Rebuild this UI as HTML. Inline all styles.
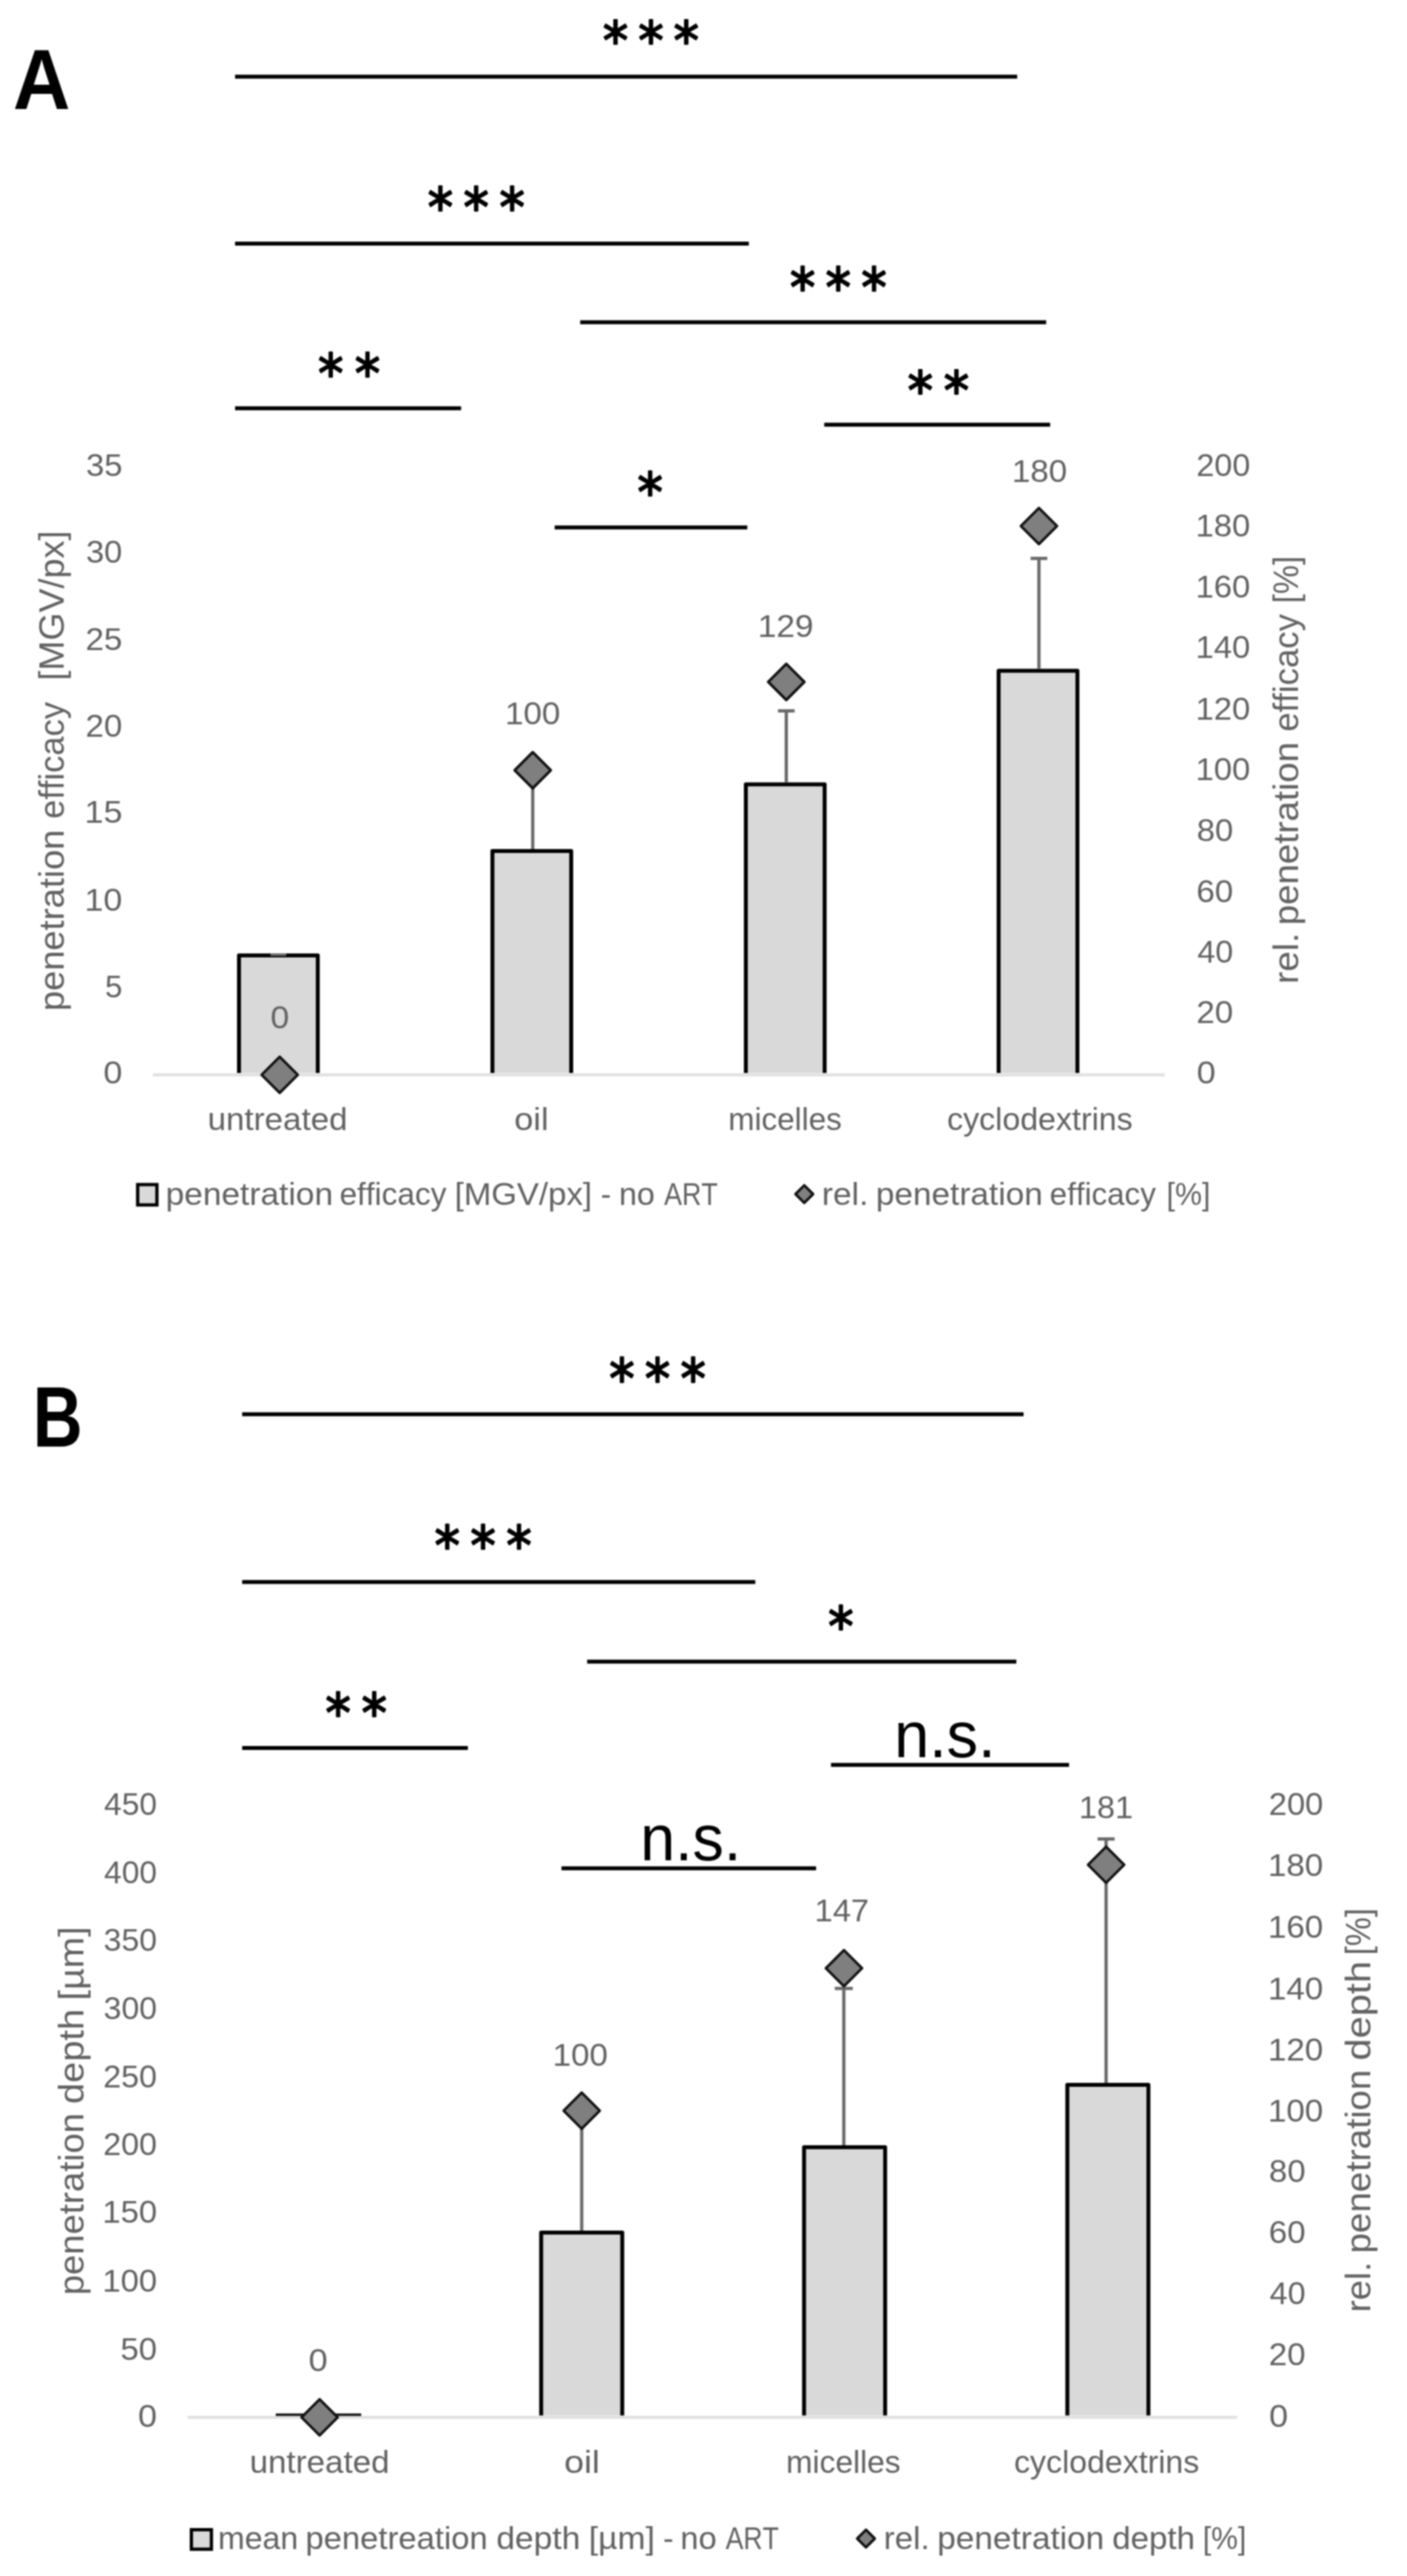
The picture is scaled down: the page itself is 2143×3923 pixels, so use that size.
<!DOCTYPE html>
<html lang="en"><head><meta charset="utf-8"><title>Figure: penetration efficacy and penetration depth</title>
<style>
html,body{margin:0;padding:0;background:#fff}
svg{display:block;filter:blur(1px)}
text{font-kerning:none;font-variant-ligatures:none;white-space:pre}
.lib{font-family:"Liberation Sans",sans-serif}
.b{font-weight:bold}
.dv{font-family:"DejaVu Sans","Liberation Sans",sans-serif}
</style></head><body>
<svg width="2143" height="3923" viewBox="0 0 2143 3923">
<rect width="2143" height="3923" fill="#fff"/>
<text class="lib b" transform="translate(19.79 165.70) scale(0.9346 1.0000)" font-size="129.5" fill="#000">A</text>
<line x1="358.00" y1="116.70" x2="1549.30" y2="116.70" stroke="#000" stroke-width="6" stroke-linecap="butt"/>
<line x1="358.00" y1="371.10" x2="1140.50" y2="371.10" stroke="#000" stroke-width="6" stroke-linecap="butt"/>
<line x1="883.70" y1="490.80" x2="1593.40" y2="490.80" stroke="#000" stroke-width="6" stroke-linecap="butt"/>
<line x1="358.00" y1="621.70" x2="702.30" y2="621.70" stroke="#000" stroke-width="6" stroke-linecap="butt"/>
<line x1="1255.40" y1="646.80" x2="1599.50" y2="646.80" stroke="#000" stroke-width="6" stroke-linecap="butt"/>
<line x1="844.80" y1="803.20" x2="1138.20" y2="803.20" stroke="#000" stroke-width="6" stroke-linecap="butt"/>
<text class="dv" transform="translate(918.31 89.94) scale(0.9644 1)" font-size="79.81" fill="#000" stroke="#000" stroke-width="2.6" stroke-linejoin="round" letter-spacing="15.98">***</text>
<text class="dv" transform="translate(651.51 345.03) scale(0.9361 1)" font-size="82.23" fill="#000" stroke="#000" stroke-width="2.6" stroke-linejoin="round" letter-spacing="17.22">***</text>
<text class="dv" transform="translate(1203.21 467.17) scale(0.9386 1)" font-size="82.01" fill="#000" stroke="#000" stroke-width="2.6" stroke-linejoin="round" letter-spacing="16.96">***</text>
<text class="dv" transform="translate(484.51 598.49) scale(0.9336 1)" font-size="82.45" fill="#000" stroke="#000" stroke-width="2.6" stroke-linejoin="round" letter-spacing="18.65">**</text>
<text class="dv" transform="translate(1382.61 622.54) scale(0.9644 1)" font-size="79.81" fill="#000" stroke="#000" stroke-width="2.6" stroke-linejoin="round" letter-spacing="17.02">**</text>
<text class="dv" transform="translate(971.01 778.68) scale(0.9462 1)" font-size="81.35" fill="#000" stroke="#000" stroke-width="2.6" stroke-linejoin="round">*</text>
<line x1="232.90" y1="1636.80" x2="1774.00" y2="1636.80" stroke="#e1e1e1" stroke-width="4.8" stroke-linecap="butt"/>
<text class="lib" transform="translate(157.47 1649.62) scale(1.0922 1.0000)" font-size="47.5" fill="#626262">0</text>
<text class="lib" transform="translate(159.90 1518.82) scale(0.9991 1.0000)" font-size="47.5" fill="#626262">5</text>
<text class="lib" transform="translate(128.87 1387.32) scale(1.0874 1.0000)" font-size="47.5" fill="#626262">10</text>
<text class="lib" transform="translate(128.85 1252.92) scale(1.0906 1.0000)" font-size="47.5" fill="#626262">15</text>
<text class="lib" transform="translate(130.27 1121.72) scale(1.0599 1.0000)" font-size="47.5" fill="#626262">20</text>
<text class="lib" transform="translate(130.26 990.31) scale(1.0629 1.0000)" font-size="47.5" fill="#626262">25</text>
<text class="lib" transform="translate(130.91 856.62) scale(1.0474 1.0000)" font-size="47.5" fill="#626262">30</text>
<text class="lib" transform="translate(130.90 725.12) scale(1.0504 1.0000)" font-size="47.5" fill="#626262">35</text>
<text class="lib" transform="translate(1822.77 1649.62) scale(1.0922 1.0000)" font-size="47.5" fill="#626262">0</text>
<text class="lib" transform="translate(1822.27 1557.92) scale(1.0599 1.0000)" font-size="47.5" fill="#626262">20</text>
<text class="lib" transform="translate(1823.67 1465.92) scale(1.0323 1.0000)" font-size="47.5" fill="#626262">40</text>
<text class="lib" transform="translate(1822.24 1373.52) scale(1.0604 1.0000)" font-size="47.5" fill="#626262">60</text>
<text class="lib" transform="translate(1822.63 1280.52) scale(1.0529 1.0000)" font-size="47.5" fill="#626262">80</text>
<text class="lib" transform="translate(1821.00 1188.02) scale(1.0504 1.0000)" font-size="47.5" fill="#626262">100</text>
<text class="lib" transform="translate(1821.00 1096.02) scale(1.0504 1.0000)" font-size="47.5" fill="#626262">120</text>
<text class="lib" transform="translate(1821.00 1001.91) scale(1.0504 1.0000)" font-size="47.5" fill="#626262">140</text>
<text class="lib" transform="translate(1821.00 909.81) scale(1.0504 1.0000)" font-size="47.5" fill="#626262">160</text>
<text class="lib" transform="translate(1821.00 817.31) scale(1.0504 1.0000)" font-size="47.5" fill="#626262">180</text>
<text class="lib" transform="translate(1822.33 724.91) scale(1.0332 1.0000)" font-size="47.5" fill="#626262">200</text>
<path d="M364.00 1634.00V1455.00H484.00V1634.00" fill="#d9d9d9" stroke="#000" stroke-width="6" stroke-linejoin="round"/>
<path d="M750.00 1634.00V1296.00H870.00V1634.00" fill="#d9d9d9" stroke="#000" stroke-width="6" stroke-linejoin="round"/>
<path d="M1136.00 1634.00V1194.50H1256.00V1634.00" fill="#d9d9d9" stroke="#000" stroke-width="6" stroke-linejoin="round"/>
<path d="M1521.00 1634.00V1021.50H1641.00V1634.00" fill="#d9d9d9" stroke="#000" stroke-width="6" stroke-linejoin="round"/>
<line x1="412.00" y1="1454.00" x2="436.00" y2="1454.00" stroke="#7f7f7f" stroke-width="3" stroke-linecap="butt"/>
<line x1="811.40" y1="1293.00" x2="811.40" y2="1180.00" stroke="#6a6a6a" stroke-width="5" stroke-linecap="butt"/>
<line x1="1197.60" y1="1191.50" x2="1197.60" y2="1082.60" stroke="#6a6a6a" stroke-width="5" stroke-linecap="butt"/>
<line x1="1184.85" y1="1082.60" x2="1210.35" y2="1082.60" stroke="#6a6a6a" stroke-width="5" stroke-linecap="butt"/>
<line x1="1582.40" y1="1018.50" x2="1582.40" y2="850.40" stroke="#6a6a6a" stroke-width="5" stroke-linecap="butt"/>
<line x1="1569.65" y1="850.40" x2="1595.15" y2="850.40" stroke="#6a6a6a" stroke-width="5" stroke-linecap="butt"/>
<path d="M426.00 1609.30L453.50 1636.80L426.00 1664.30L398.50 1636.80Z" fill="#7f7f7f" stroke="#111" stroke-width="4" stroke-linejoin="round"/>
<path d="M811.40 1145.50L838.90 1173.00L811.40 1200.50L783.90 1173.00Z" fill="#7f7f7f" stroke="#111" stroke-width="4" stroke-linejoin="round"/>
<path d="M1197.60 1011.00L1225.10 1038.50L1197.60 1066.00L1170.10 1038.50Z" fill="#7f7f7f" stroke="#111" stroke-width="4" stroke-linejoin="round"/>
<path d="M1582.40 773.70L1609.90 801.20L1582.40 828.70L1554.90 801.20Z" fill="#7f7f7f" stroke="#111" stroke-width="4" stroke-linejoin="round"/>
<text class="lib" transform="translate(412.00 1566.00) scale(1.0790 1.0000)" font-size="47.5" fill="#626262">0</text>
<text class="lib" transform="translate(769.15 1102.50) scale(1.0640 1.0000)" font-size="47.5" fill="#626262">100</text>
<text class="lib" transform="translate(1154.13 969.50) scale(1.0697 1.0000)" font-size="47.5" fill="#626262">129</text>
<text class="lib" transform="translate(1541.15 733.50) scale(1.0640 1.0000)" font-size="47.5" fill="#626262">180</text>
<text class="lib" transform="translate(316.23 1720.50) scale(1.0613 1.0000)" font-size="47.5" fill="#626262">untreated</text>
<text class="lib" transform="translate(783.31 1720.50) scale(1.0980 1.0000)" font-size="47.5" fill="#626262">oil</text>
<text class="lib" transform="translate(1109.32 1720.50) scale(1.0079 1.0000)" font-size="47.5" fill="#626262">micelles</text>
<text class="lib" transform="translate(1442.42 1720.50) scale(1.0303 1.0000)" font-size="47.5" fill="#626262">cyclodextrins</text>
<g>
<text class="lib" transform="translate(97.00 1539.76) rotate(-90) scale(1.0133 1)" font-size="54.5" fill="#626262">penetration</text>
<text class="lib" transform="translate(97.00 1247.03) rotate(-90) scale(0.9641 1)" font-size="54.5" fill="#626262">efficacy</text>
<text class="lib" transform="translate(97.00 1036.41) rotate(-90) scale(1.0061 1)" font-size="54.5" fill="#626262">[MGV/px]</text>
</g>
<g>
<text class="lib" transform="translate(1977.30 1498.43) rotate(-90) scale(1.0296 1)" font-size="54.5" fill="#626262">rel.</text>
<text class="lib" transform="translate(1977.30 1409.10) rotate(-90) scale(1.0239 1)" font-size="54.5" fill="#626262">penetration</text>
<text class="lib" transform="translate(1977.30 1114.35) rotate(-90) scale(0.9707 1)" font-size="54.5" fill="#626262">efficacy</text>
<text class="lib" transform="translate(1977.30 918.66) rotate(-90) scale(0.9158 1)" font-size="54.5" fill="#626262">[%]</text>
</g>
<rect x="209.7" y="1804" width="29.3" height="31" fill="#d9d9d9" stroke="#000" stroke-width="5"/>
<g>
<text class="lib" transform="translate(252.21 1835.00) scale(1.0733 1.0000)" font-size="47.5" fill="#626262">penetration</text>
<text class="lib" transform="translate(517.16 1835.00) scale(1.0112 1.0000)" font-size="47.5" fill="#626262">efficacy</text>
<text class="lib" transform="translate(692.42 1835.00) scale(1.0581 1.0000)" font-size="47.5" fill="#626262">[MGV/px]</text>
<text class="lib" transform="translate(914.89 1835.00) scale(1.0003 1.0000)" font-size="47.5" fill="#626262">-</text>
<text class="lib" transform="translate(942.63 1835.00) scale(1.0360 1.0000)" font-size="47.5" fill="#626262">no</text>
<text class="lib" transform="translate(1011.42 1835.00) scale(0.8612 1.0000)" font-size="47.5" fill="#626262">ART</text>
</g>
<path d="M1225.00 1805.10L1238.40 1818.50L1225.00 1831.90L1211.60 1818.50Z" fill="#7f7f7f" stroke="#111" stroke-width="4" stroke-linejoin="round"/>
<g>
<text class="lib" transform="translate(1251.82 1835.00) scale(1.0719 1.0000)" font-size="47.5" fill="#626262">rel.</text>
<text class="lib" transform="translate(1334.02 1835.00) scale(1.0698 1.0000)" font-size="47.5" fill="#626262">penetration</text>
<text class="lib" transform="translate(1598.87 1835.00) scale(1.0043 1.0000)" font-size="47.5" fill="#626262">efficacy</text>
<text class="lib" transform="translate(1776.81 1835.00) scale(0.9716 1.0000)" font-size="47.5" fill="#626262">[%]</text>
</g>
<text class="lib b" transform="translate(49.98 2203.00) scale(0.8104 1.0000)" font-size="129.5" fill="#000">B</text>
<line x1="368.80" y1="2153.80" x2="1559.00" y2="2153.80" stroke="#000" stroke-width="6" stroke-linecap="butt"/>
<line x1="368.80" y1="2409.30" x2="1150.40" y2="2409.30" stroke="#000" stroke-width="6" stroke-linecap="butt"/>
<line x1="894.30" y1="2530.40" x2="1548.00" y2="2530.40" stroke="#000" stroke-width="6" stroke-linecap="butt"/>
<line x1="368.80" y1="2662.00" x2="712.60" y2="2662.00" stroke="#000" stroke-width="6" stroke-linecap="butt"/>
<line x1="1265.70" y1="2687.80" x2="1628.30" y2="2687.80" stroke="#000" stroke-width="6" stroke-linecap="butt"/>
<line x1="855.20" y1="2845.20" x2="1243.00" y2="2845.20" stroke="#000" stroke-width="6" stroke-linecap="butt"/>
<text class="dv" transform="translate(928.11 2128.78) scale(0.9262 1)" font-size="83.10" fill="#000" stroke="#000" stroke-width="2.6" stroke-linejoin="round" letter-spacing="17.02">***</text>
<text class="dv" transform="translate(662.01 2383.14) scale(0.9436 1)" font-size="81.57" fill="#000" stroke="#000" stroke-width="2.6" stroke-linejoin="round" letter-spacing="17.08">***</text>
<text class="dv" transform="translate(1261.41 2506.04) scale(0.9436 1)" font-size="81.57" fill="#000" stroke="#000" stroke-width="2.6" stroke-linejoin="round">*</text>
<text class="dv" transform="translate(495.71 2638.43) scale(0.9361 1)" font-size="82.23" fill="#000" stroke="#000" stroke-width="2.6" stroke-linejoin="round" letter-spacing="17.75">**</text>
<text class="lib" transform="translate(1361.94 2675.50) scale(0.9670 1.0000)" font-size="99" fill="#000">n.s.</text>
<text class="lib" transform="translate(975.27 2832.50) scale(0.9628 1.0000)" font-size="99" fill="#000">n.s.</text>
<line x1="285.70" y1="3681.30" x2="1884.20" y2="3681.30" stroke="#e1e1e1" stroke-width="4.8" stroke-linecap="butt"/>
<text class="lib" transform="translate(210.37 3695.51) scale(1.0922 1.0000)" font-size="47.5" fill="#626262">0</text>
<text class="lib" transform="translate(183.39 3594.11) scale(1.0555 1.0000)" font-size="47.5" fill="#626262">50</text>
<text class="lib" transform="translate(155.90 3489.51) scale(1.0504 1.0000)" font-size="47.5" fill="#626262">100</text>
<text class="lib" transform="translate(155.90 3385.32) scale(1.0504 1.0000)" font-size="47.5" fill="#626262">150</text>
<text class="lib" transform="translate(157.23 3281.82) scale(1.0332 1.0000)" font-size="47.5" fill="#626262">200</text>
<text class="lib" transform="translate(157.23 3179.11) scale(1.0332 1.0000)" font-size="47.5" fill="#626262">250</text>
<text class="lib" transform="translate(157.85 3075.32) scale(1.0253 1.0000)" font-size="47.5" fill="#626262">300</text>
<text class="lib" transform="translate(157.85 2971.32) scale(1.0253 1.0000)" font-size="47.5" fill="#626262">350</text>
<text class="lib" transform="translate(158.59 2867.51) scale(1.0156 1.0000)" font-size="47.5" fill="#626262">400</text>
<text class="lib" transform="translate(158.59 2763.82) scale(1.0156 1.0000)" font-size="47.5" fill="#626262">450</text>
<text class="lib" transform="translate(1932.97 3695.51) scale(1.0922 1.0000)" font-size="47.5" fill="#626262">0</text>
<text class="lib" transform="translate(1932.47 3601.91) scale(1.0599 1.0000)" font-size="47.5" fill="#626262">20</text>
<text class="lib" transform="translate(1933.87 3508.71) scale(1.0323 1.0000)" font-size="47.5" fill="#626262">40</text>
<text class="lib" transform="translate(1932.44 3415.91) scale(1.0604 1.0000)" font-size="47.5" fill="#626262">60</text>
<text class="lib" transform="translate(1932.83 3323.32) scale(1.0529 1.0000)" font-size="47.5" fill="#626262">80</text>
<text class="lib" transform="translate(1931.15 3231.01) scale(1.0640 1.0000)" font-size="47.5" fill="#626262">100</text>
<text class="lib" transform="translate(1931.15 3138.01) scale(1.0640 1.0000)" font-size="47.5" fill="#626262">120</text>
<text class="lib" transform="translate(1931.15 3044.91) scale(1.0640 1.0000)" font-size="47.5" fill="#626262">140</text>
<text class="lib" transform="translate(1931.15 2951.41) scale(1.0640 1.0000)" font-size="47.5" fill="#626262">160</text>
<text class="lib" transform="translate(1931.15 2856.51) scale(1.0640 1.0000)" font-size="47.5" fill="#626262">180</text>
<text class="lib" transform="translate(1932.50 2763.82) scale(1.0466 1.0000)" font-size="47.5" fill="#626262">200</text>
<line x1="420.00" y1="3677.40" x2="550.20" y2="3677.40" stroke="#111" stroke-width="3.6" stroke-linecap="butt"/>
<path d="M824.25 3678.50V3400.00H947.75V3678.50" fill="#d9d9d9" stroke="#000" stroke-width="6" stroke-linejoin="round"/>
<path d="M1224.65 3678.50V3270.00H1348.15V3678.50" fill="#d9d9d9" stroke="#000" stroke-width="6" stroke-linejoin="round"/>
<path d="M1625.65 3678.50V3175.00H1749.15V3678.50" fill="#d9d9d9" stroke="#000" stroke-width="6" stroke-linejoin="round"/>
<line x1="886.00" y1="3397.00" x2="886.00" y2="3220.00" stroke="#6a6a6a" stroke-width="5" stroke-linecap="butt"/>
<line x1="1285.20" y1="3267.00" x2="1285.20" y2="3028.20" stroke="#6a6a6a" stroke-width="5" stroke-linecap="butt"/>
<line x1="1271.45" y1="3028.20" x2="1298.95" y2="3028.20" stroke="#6a6a6a" stroke-width="5" stroke-linecap="butt"/>
<line x1="1684.70" y1="3172.00" x2="1684.70" y2="2800.60" stroke="#6a6a6a" stroke-width="5" stroke-linecap="butt"/>
<line x1="1671.70" y1="2800.60" x2="1697.70" y2="2800.60" stroke="#6a6a6a" stroke-width="5" stroke-linecap="butt"/>
<path d="M486.80 3653.80L514.30 3681.30L486.80 3708.80L459.30 3681.30Z" fill="#7f7f7f" stroke="#111" stroke-width="4" stroke-linejoin="round"/>
<path d="M886.00 3186.80L913.50 3214.30L886.00 3241.80L858.50 3214.30Z" fill="#7f7f7f" stroke="#111" stroke-width="4" stroke-linejoin="round"/>
<path d="M1285.40 2969.90L1312.90 2997.40L1285.40 3024.90L1257.90 2997.40Z" fill="#7f7f7f" stroke="#111" stroke-width="4" stroke-linejoin="round"/>
<path d="M1684.70 2812.30L1712.20 2839.80L1684.70 2867.30L1657.20 2839.80Z" fill="#7f7f7f" stroke="#111" stroke-width="4" stroke-linejoin="round"/>
<text class="lib" transform="translate(469.96 3611.00) scale(1.1010 1.0000)" font-size="47.5" fill="#626262">0</text>
<text class="lib" transform="translate(841.65 3146.30) scale(1.0640 1.0000)" font-size="47.5" fill="#626262">100</text>
<text class="lib" transform="translate(1240.83 2926.20) scale(1.0431 1.0000)" font-size="47.5" fill="#626262">147</text>
<text class="lib" transform="translate(1643.23 2768.80) scale(1.0421 1.0000)" font-size="47.5" fill="#626262">181</text>
<text class="lib" transform="translate(380.23 3765.50) scale(1.0613 1.0000)" font-size="47.5" fill="#626262">untreated</text>
<text class="lib" transform="translate(859.22 3765.50) scale(1.1452 1.0000)" font-size="47.5" fill="#626262">oil</text>
<text class="lib" transform="translate(1197.29 3765.50) scale(1.0169 1.0000)" font-size="47.5" fill="#626262">micelles</text>
<text class="lib" transform="translate(1544.42 3765.50) scale(1.0284 1.0000)" font-size="47.5" fill="#626262">cyclodextrins</text>
<g>
<text class="lib" transform="translate(127.00 3495.37) rotate(-90) scale(1.0175 1)" font-size="54.5" fill="#626262">penetration</text>
<text class="lib" transform="translate(127.00 3204.23) rotate(-90) scale(1.0624 1)" font-size="54.5" fill="#626262">depth</text>
<text class="lib" transform="translate(127.00 3046.38) rotate(-90) scale(1.0502 1)" font-size="54.5" fill="#626262">[µm]</text>
</g>
<g>
<text class="lib" transform="translate(2087.00 3521.48) rotate(-90) scale(1.0177 1)" font-size="54.5" fill="#626262">rel.</text>
<text class="lib" transform="translate(2087.00 3431.81) rotate(-90) scale(1.0265 1)" font-size="54.5" fill="#626262">penetration</text>
<text class="lib" transform="translate(2087.00 3138.05) rotate(-90) scale(1.1129 1)" font-size="54.5" fill="#626262">depth</text>
<text class="lib" transform="translate(2087.00 2977.53) rotate(-90) scale(0.9088 1)" font-size="54.5" fill="#626262">[%]</text>
</g>
<rect x="291.5" y="3852.5" width="30.5" height="29.7" fill="#d9d9d9" stroke="#000" stroke-width="5"/>
<g>
<text class="lib" transform="translate(331.95 3882.00) scale(1.0295 1.0000)" font-size="47.5" fill="#626262">mean</text>
<text class="lib" transform="translate(465.28 3882.00) scale(1.0510 1.0000)" font-size="47.5" fill="#626262">penetreation</text>
<text class="lib" transform="translate(755.95 3882.00) scale(1.0757 1.0000)" font-size="47.5" fill="#626262">depth</text>
<text class="lib" transform="translate(896.85 3882.00) scale(1.0779 1.0000)" font-size="47.5" fill="#626262">[µm]</text>
<text class="lib" transform="translate(1009.97 3882.00) scale(1.0089 1.0000)" font-size="47.5" fill="#626262">-</text>
<text class="lib" transform="translate(1036.31 3882.00) scale(1.0443 1.0000)" font-size="47.5" fill="#626262">no</text>
<text class="lib" transform="translate(1105.22 3882.00) scale(0.8538 1.0000)" font-size="47.5" fill="#626262">ART</text>
</g>
<path d="M1319.00 3852.60L1332.40 3866.00L1319.00 3879.40L1305.60 3866.00Z" fill="#7f7f7f" stroke="#111" stroke-width="4" stroke-linejoin="round"/>
<g>
<text class="lib" transform="translate(1346.05 3882.00) scale(1.0617 1.0000)" font-size="47.5" fill="#626262">rel.</text>
<text class="lib" transform="translate(1427.52 3882.00) scale(1.0702 1.0000)" font-size="47.5" fill="#626262">penetration</text>
<text class="lib" transform="translate(1693.88 3882.00) scale(1.0625 1.0000)" font-size="47.5" fill="#626262">depth</text>
<text class="lib" transform="translate(1832.03 3882.00) scale(0.9651 1.0000)" font-size="47.5" fill="#626262">[%]</text>
</g>
</svg>
</body></html>
